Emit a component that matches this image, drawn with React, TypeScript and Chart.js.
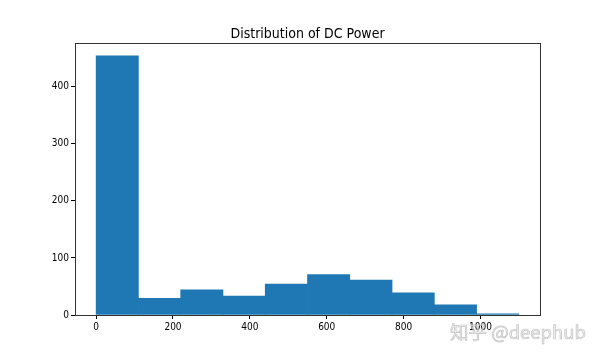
import React, { useEffect, useRef } from "react";
import { Chart, registerables } from "chart.js";

Chart.register(...registerables);

const binEdges = [0, 110, 220, 330, 440, 550, 660, 770, 880, 990, 1100];
const counts = [454, 29, 44, 33, 54, 71, 61, 39, 18, 2];
const xTicks = [0, 200, 400, 600, 800, 1000];
const yTicks = [0, 100, 200, 300, 400];
const title = "Distribution of DC Power";
const watermark = "知乎 @deephub";

const FONT = "'DejaVu Sans Condensed', 'DejaVu Sans', sans-serif";

const boxPlugin = {
  id: "boxPlugin",
  afterDraw(chart: any) {
    const { ctx, chartArea } = chart;
    ctx.save();
    ctx.strokeStyle = "#333333";
    ctx.lineWidth = 1;
    ctx.strokeRect(
      Math.round(chartArea.left) + 0.5,
      Math.round(chartArea.top) + 0.5,
      Math.round(chartArea.right - chartArea.left),
      Math.round(chartArea.bottom - chartArea.top)
    );
    ctx.fillStyle = "#000";
    ctx.font = `14px ${FONT}`;
    ctx.textAlign = "center";
    ctx.textBaseline = "alphabetic";
    ctx.fillText(title, (chartArea.left + chartArea.right) / 2, 38);
    // watermark
    ctx.font = `18.5px 'Noto Sans CJK SC', sans-serif`;
    ctx.textAlign = "left";
    ctx.globalAlpha = 0.6;
    ctx.fillStyle = "#e8e8e8";
    ctx.fillText(watermark, 450, 339);
    ctx.strokeStyle = "#a0a0a0";
    ctx.lineWidth = 0.7;
    ctx.strokeText(watermark, 450, 339);
    ctx.restore();
  },
};

export default function App() {
  const ref = useRef<HTMLCanvasElement | null>(null);
  useEffect(() => {
    if (!ref.current) return;
    const data = counts.map((c, i) => ({ x: (binEdges[i] + binEdges[i + 1]) / 2, y: c }));
    const lo = binEdges[0];
    const hi = binEdges[binEdges.length - 1];
    const margin = (hi - lo) * 0.05;
    const yMax = Math.max(...counts) * 1.05;
    const chart = new Chart(ref.current, {
      type: "bar",
      data: {
        datasets: [
          {
            data,
            backgroundColor: "#1f77b4",
            borderWidth: 0,
            barPercentage: 1,
            categoryPercentage: 1,
          },
        ],
      },
      options: {
        animation: false,
        responsive: false,
        layout: { padding: { left: 0, right: 60, top: 43, bottom: 0 } },
        plugins: {
          legend: { display: false },
          tooltip: { enabled: false },
          title: { display: false },
        },
        scales: {
          x: {
            type: "linear",
            offset: false,
            min: lo - margin,
            max: hi + margin,
            afterBuildTicks: (s: any) => {
              s.ticks = xTicks.map((v) => ({ value: v }));
            },
            afterFit: (s: any) => {
              s.height = 45;
            },
            grid: {
              display: true,
              offset: false,
              drawOnChartArea: false,
              drawTicks: true,
              tickLength: 4,
              tickColor: "#000",
            },
            border: { display: true, color: "#333" },
            ticks: {
              color: "#000",
              font: { family: FONT, size: 10 },
              padding: 2,
              maxRotation: 0,
              autoSkip: false,
              callback: (v: any) => String(v),
            },
          },
          y: {
            type: "linear",
            min: 0,
            max: yMax,
            afterBuildTicks: (s: any) => {
              s.ticks = yTicks.map((v) => ({ value: v }));
            },
            afterFit: (s: any) => {
              s.width = 75;
            },
            grid: {
              display: true,
              drawOnChartArea: false,
              drawTicks: true,
              tickLength: 4,
              tickColor: "#000",
            },
            border: { display: true, color: "#333" },
            ticks: {
              color: "#000",
              font: { family: FONT, size: 10 },
              padding: 2,
              autoSkip: false,
              callback: (v: any) => String(v),
            },
          },
        },
      },
      plugins: [boxPlugin],
    });
    return () => chart.destroy();
  }, []);
  return (
    <div style={{ position: "fixed", left: 0, top: 0, width: 600, height: 360, background: "#fff" }}>
      <canvas ref={ref} width={600} height={360} style={{ width: 600, height: 360 }} />
    </div>
  );
}
